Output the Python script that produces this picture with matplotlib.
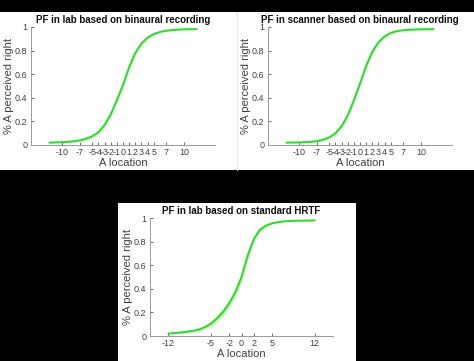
import numpy as np
import matplotlib
matplotlib.use("Agg")
import matplotlib.pyplot as plt
from matplotlib.patches import Rectangle
from matplotlib.lines import Line2D

plt.rcParams["font.family"] = ["Liberation Sans", "DejaVu Sans"]
plt.rcParams["axes.unicode_minus"] = False

loc = list(range(-12, 13))

pf_lab_binaural = [0.020, 0.022, 0.024, 0.027, 0.032, 0.040, 0.053, 0.075, 0.110, 0.170, 0.260,
                   0.380, 0.510, 0.660, 0.780, 0.860, 0.910, 0.940, 0.958, 0.968, 0.974,
                   0.978, 0.980, 0.981, 0.982]
pf_scanner_binaural = [0.020, 0.021, 0.022, 0.024, 0.027, 0.033, 0.045, 0.065, 0.100, 0.160, 0.250,
                       0.380, 0.520, 0.670, 0.790, 0.870, 0.920, 0.950, 0.965, 0.973, 0.977,
                       0.979, 0.980, 0.981, 0.982]
pf_lab_hrtf = [0.020, 0.025, 0.030, 0.036, 0.043, 0.055, 0.075, 0.105, 0.150, 0.205, 0.280,
               0.370, 0.500, 0.680, 0.820, 0.900, 0.935, 0.955, 0.965, 0.972, 0.975,
               0.977, 0.978, 0.979, 0.980]

# half width of the shaded confidence band
ci_lab_binaural = [0.004, 0.004, 0.005, 0.005, 0.006, 0.007, 0.009, 0.012, 0.015, 0.018, 0.020,
                   0.022, 0.022, 0.021, 0.018, 0.014, 0.010, 0.007, 0.005, 0.004, 0.004,
                   0.003, 0.003, 0.003, 0.003]
ci_scanner_binaural = [0.003, 0.003, 0.004, 0.004, 0.005, 0.006, 0.008, 0.010, 0.013, 0.016, 0.018,
                       0.020, 0.020, 0.019, 0.016, 0.012, 0.009, 0.006, 0.004, 0.003, 0.003,
                       0.003, 0.003, 0.003, 0.003]
ci_lab_hrtf = [0.005, 0.006, 0.007, 0.008, 0.010, 0.012, 0.016, 0.020, 0.026, 0.030, 0.033,
               0.035, 0.034, 0.030, 0.024, 0.016, 0.010, 0.007, 0.005, 0.004, 0.004,
               0.003, 0.003, 0.003, 0.003]

ticks_binaural = [-10, -7, -5, -4, -3, -2, -1, 0, 1, 2, 3, 4, 5, 7, 10]
ticks_hrtf = [-12, -5, -2, 0, 2, 5, 12]

titles = ["PF in lab based on binaural recording",
          "PF in scanner based on binaural recording",
          "PF in lab based on standard HRTF"]

W, H = 474, 361


def px_axes(fig, left, top, right, bottom):
    return fig.add_axes([left / W, 1 - bottom / H, (right - left) / W, (bottom - top) / H])


def draw_panel(ax, y, ci, title, ticks):
    x = np.array(loc)
    y = np.array(y)
    ci = np.array(ci)
    ax.fill_between(x, y - ci, y + ci, color="#c4f5b4", lw=0)
    ax.plot(x, y, color="#22e022", lw=1.4, solid_capstyle="round")
    ax.set_xlim(-15, 15)
    ax.set_ylim(0, 1)
    ax.set_xticks(ticks)
    ax.set_yticks([0, 0.2, 0.4, 0.6, 0.8, 1])
    ax.set_yticklabels(["0", "0.2", "0.4", "0.6", "0.8", "1"])
    ax.tick_params(direction="in", length=2, width=0.6, labelsize=6.5,
                   colors="#555555", labelcolor="#404040", pad=2.5)
    for s in ["top", "right"]:
        ax.spines[s].set_visible(False)
    for s in ["left", "bottom"]:
        ax.spines[s].set_color("#9a9a9a")
        ax.spines[s].set_linewidth(0.7)
    ax.set_title(title, fontsize=7, fontweight="bold", color="#111111", pad=3)
    ax.set_xlabel("A location", fontsize=8, color="#404040", labelpad=0.5)
    ax.set_ylabel("% A perceived right", fontsize=8, color="#404040", labelpad=1)
    ax.set_facecolor("none")


fig = plt.figure(figsize=(W / 100, H / 100), dpi=100, facecolor="black")

# white panel backgrounds, kept behind the axes
for x0, y0, w, h in [(0, 191, 474, 158), (118, 0, 238, 158)]:
    fig.patches.append(Rectangle((x0 / W, y0 / H), w / W, h / H, transform=fig.transFigure,
                                 facecolor="white", edgecolor="none", zorder=-10))
fig.lines.append(Line2D([236.5 / W, 236.5 / W], [191 / H, 349 / H], transform=fig.transFigure,
                        color="#e6e6e6", lw=0.8, zorder=-5))

ax1 = px_axes(fig, 31, 27, 215, 145)
draw_panel(ax1, pf_lab_binaural, ci_lab_binaural, titles[0], ticks_binaural)

ax2 = px_axes(fig, 268, 27, 452, 145)
draw_panel(ax2, pf_scanner_binaural, ci_scanner_binaural, titles[1], ticks_binaural)

ax3 = px_axes(fig, 150, 218, 333, 336)
draw_panel(ax3, pf_lab_hrtf, ci_lab_hrtf, titles[2], ticks_hrtf)

fig.savefig("out.png", dpi=100, facecolor="black")
